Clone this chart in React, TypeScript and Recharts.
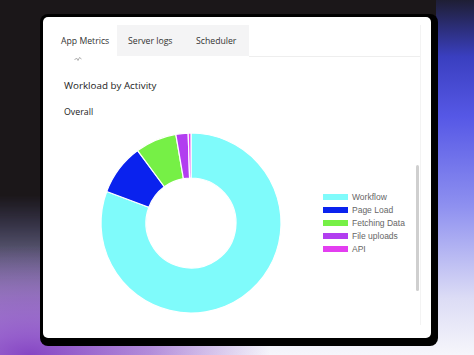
import { PieChart, Pie, Cell, Legend } from 'recharts'

const activities = ['Workflow', 'Page Load', 'Fetching Data', 'File uploads', 'API']
const shares = [80.7, 9.2, 7.4, 2.2, 0.5]
const colors = ['#7ffbfb', '#0a22ee', '#76f046', '#b23ef0', '#e33ef0']
const tabs = ['App Metrics', 'Server logs', 'Scheduler']

const data = activities.map((name, i) => ({ name, value: shares[i] }))

const uiFont = '"Open Sans", "Noto Sans", sans-serif'

function ActivityLegend({ payload }: any) {
  const items = [...(payload || [])].sort(
    (a: any, b: any) => activities.indexOf(a.value) - activities.indexOf(b.value),
  )
  return (
    <div style={{ fontFamily: '"Liberation Sans", Arial, sans-serif', fontSize: 8.5, color: '#666' }}>
      {items.map((item: any) => (
        <div key={item.value} style={{ display: 'flex', alignItems: 'center', height: 13 }}>
          <span style={{ width: 25, height: 6, background: item.color, marginRight: 4, display: 'inline-block' }} />
          <span>{item.value}</span>
        </div>
      ))}
    </div>
  )
}

export default function App() {
  return (
    <div style={{ position: 'fixed', left: 0, top: 0, width: 474, height: 355, overflow: 'hidden', background: '#5658e6' }}>
      {/* backdrop */}
      <div
        style={{
          position: 'absolute',
          left: 0,
          top: 0,
          width: 474,
          height: 355,
          background: 'linear-gradient(180deg, #1e1e34 0%, #3a3fc0 16%, #5658e6 33%, #8e90f0 58%, #dcdcf5 84%, #f6f6fb 100%)',
        }}
      />
      <div
        style={{
          position: 'absolute',
          left: 0,
          top: 0,
          width: 436,
          height: 355,
          background: '#1b1719',
          WebkitMaskImage: 'linear-gradient(180deg, #000 0%, #000 55%, transparent 95%)',
          maskImage: 'linear-gradient(180deg, #000 0%, #000 55%, transparent 95%)',
        }}
      />
      <div
        style={{
          position: 'absolute',
          left: 0,
          top: 0,
          width: 474,
          height: 355,
          background: 'radial-gradient(ellipse 240px 110px at 30px 355px, #8646c4 0%, rgba(134,70,196,0.6) 50%, rgba(134,70,196,0) 100%)',
        }}
      />

      {/* card shadow / border */}
      <div style={{ position: 'absolute', left: 40, top: 14, width: 398, height: 332, background: '#000', borderRadius: 8 }} />
      <div style={{ position: 'absolute', left: 43, top: 17, width: 388, height: 321, background: '#fff', borderRadius: 5 }} />

      {/* tabs */}
      <div style={{ position: 'absolute', left: 117, top: 25, width: 132, height: 31, background: '#f4f4f5' }} />
      <div style={{ position: 'absolute', left: 249, top: 56, width: 171, height: 1, background: '#eeeeee' }} />
      <div style={{ position: 'absolute', left: 420, top: 25, width: 1, height: 300, background: '#f3f3f3' }} />
      {tabs.map((t, i) => (
        <div
          key={t}
          style={{
            position: 'absolute',
            left: [61, 128, 196][i],
            top: 35,
            fontFamily: uiFont,
            fontSize: 8.7,
            color: '#333',
            whiteSpace: 'nowrap',
          }}
        >
          {t}
        </div>
      ))}
      <svg style={{ position: 'absolute', left: 74, top: 56 }} width={8} height={6}>
        <polyline points="0.5,4 2.5,2 4,4.5 5.5,1.5 7.5,3" fill="none" stroke="#999" strokeWidth={0.8} />
      </svg>

      <div style={{ position: 'absolute', left: 64, top: 79, fontFamily: uiFont, fontSize: 9.8, color: '#222', whiteSpace: 'nowrap' }}>
        Workload by Activity
      </div>
      <div style={{ position: 'absolute', left: 64, top: 106, fontFamily: uiFont, fontSize: 8.8, color: '#222', whiteSpace: 'nowrap' }}>
        Overall
      </div>

      {/* scrollbar */}
      <div style={{ position: 'absolute', left: 416, top: 165, width: 3, height: 126, background: '#cfcfcf', borderRadius: 2 }} />

      <div style={{ position: 'absolute', left: 91, top: 123 }}>
        <PieChart width={330} height={200} margin={{ top: 0, right: 0, bottom: 0, left: 0 }}>
          <Pie
            data={data}
            dataKey="value"
            nameKey="name"
            cx={100}
            cy={100}
            innerRadius={45}
            outerRadius={90}
            startAngle={90}
            endAngle={-270}
            stroke="#fff"
            strokeWidth={1.2}
            isAnimationActive={false}
          >
            {data.map((d, i) => (
              <Cell key={d.name} fill={colors[i]} />
            ))}
          </Pie>
          <Legend
            layout="vertical"
            content={<ActivityLegend />}
            wrapperStyle={{ left: 232, top: 67, width: 95 }}
          />
        </PieChart>
      </div>
    </div>
  )
}
